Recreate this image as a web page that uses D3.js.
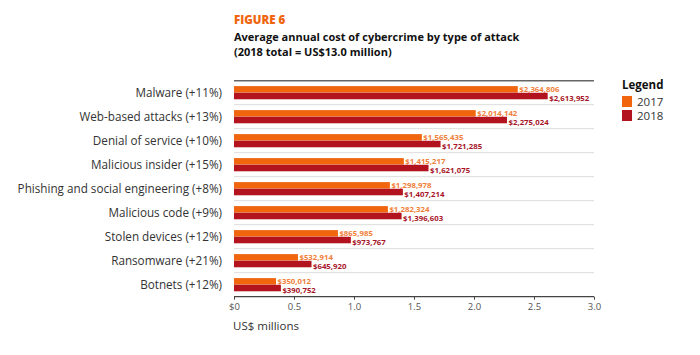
<!DOCTYPE html>
<html><head><meta charset="utf-8">
<script src="https://cdn.jsdelivr.net/npm/d3@7"></script>
<style>body{margin:0;background:#fff}svg{display:block}text{font-family:"Open Sans","Noto Sans",sans-serif}</style>
</head><body><svg id="c" width="700" height="355"></svg>
<script>
const categories = ["Malware (+11%)","Web-based attacks (+13%)","Denial of service (+10%)","Malicious insider (+15%)","Phishing and social engineering (+8%)","Malicious code (+9%)","Stolen devices (+12%)","Ransomware (+21%)","Botnets (+12%)"];
const series = ["2017","2018"];
const values2017 = [2364806,2014142,1565435,1415217,1298978,1282324,865985,532914,350012];
const values2018 = [2613952,2275024,1721285,1621075,1407214,1396603,973767,645920,390752];
const ticks = [0,0.5,1.0,1.5,2.0,2.5,3.0];
const tickLabels = ["$0","0.5","1.0","1.5","2.0","2.5","3.0"];
const colors = ["#f0650e","#b3131f"];
const labelColors = ["#f0803a","#a8162a"];

const svg = d3.select("#c");
const x = d3.scaleLinear().domain([0,3]).range([234,594]);
const y = d3.scaleBand().domain(categories).range([80.7,296.7]).paddingInner(0.44).paddingOuter(0.22);
const sub = d3.scaleBand().domain(series).range([0,y.bandwidth()]).padding(0.02);
const step = y.step();

// titles
svg.append("text").attr("x",234).attr("y",24).attr("fill","#f0650e").attr("font-weight",800).attr("font-size",11.5).attr("font-family","Lato, 'Open Sans', sans-serif").text("FIGURE 6");
svg.append("text").attr("x",234).attr("y",41).attr("fill","#111").attr("font-weight",700).attr("font-size",11).text("Average annual cost of cybercrime by type of attack");
svg.append("text").attr("x",234).attr("y",56).attr("fill","#111").attr("font-weight",700).attr("font-size",11).text("(2018 total = US$13.0 million)");

// separators
categories.slice(0,-1).forEach((c,i)=>{
  const yy = 80.7 + step*(i+1);
  svg.append("line").attr("x1",234).attr("x2",594).attr("y1",yy).attr("y2",yy).attr("stroke","#dcdcdc").attr("stroke-width",1);
});
svg.append("line").attr("x1",234).attr("x2",594).attr("y1",80.7).attr("y2",80.7).attr("stroke","#666").attr("stroke-width",1.5);

// category labels
svg.append("g").selectAll("text").data(categories).join("text")
  .attr("x",222).attr("y",d=>y(d)+y.bandwidth()/2+4).attr("text-anchor","end")
  .attr("font-size",11.7).attr("fill","#333").text(d=>d);

// bars
const data = [values2017, values2018];
const fmt = d3.format(",");
series.forEach((s,si)=>{
  const g = svg.append("g");
  g.selectAll("rect").data(categories).join("rect")
    .attr("x",x(0)).attr("y",d=>y(d)+sub(s)).attr("height",sub.bandwidth())
    .attr("width",(d,i)=>x(data[si][i]/1e6)-x(0)).attr("fill",colors[si]);
  g.selectAll("text").data(categories).join("text")
    .attr("x",(d,i)=>x(data[si][i]/1e6)+1.5)
    .attr("y",d=>y(d)+sub(s)+sub.bandwidth()/2+(si===0?2.5:5))
    .attr("font-size",7.8).attr("font-weight",700).attr("fill",labelColors[si])
    .text((d,i)=>"$"+fmt(data[si][i]));
});

// axis
const ax = svg.append("g").attr("transform","translate(0,296.7)")
  .call(d3.axisBottom(x).tickValues(ticks).tickFormat((d,i)=>tickLabels[i]).tickSize(3).tickPadding(4));
ax.select(".domain").attr("stroke","#444").attr("stroke-width",1.2).attr("d","M234,0H594");
ax.selectAll(".tick line").attr("stroke","#444");
ax.selectAll(".tick text").attr("font-size",9.5).attr("fill","#555").attr("font-family","'Open Sans',sans-serif");
svg.append("text").attr("x",233).attr("y",330).attr("font-size",11.5).attr("fill","#333").text("US$ millions");

// legend
svg.append("text").attr("x",622).attr("y",89).attr("font-weight",700).attr("font-size",11.5).attr("fill","#111").text("Legend");
const lg = svg.append("g").selectAll("g").data(series).join("g").attr("transform",(d,i)=>`translate(622,${96+i*14})`);
lg.append("rect").attr("width",10).attr("height",11).attr("fill",(d,i)=>colors[i]);
lg.append("text").attr("x",15).attr("y",10).attr("font-size",11.5).attr("fill","#333").text(d=>d);
</script></body></html>
